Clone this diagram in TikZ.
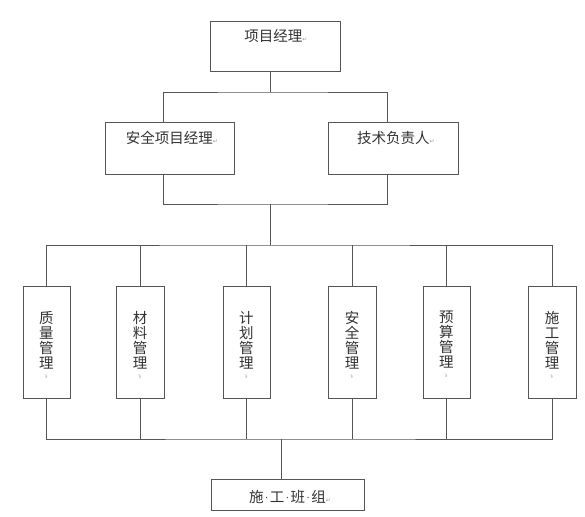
\documentclass[tikz,border=0pt]{standalone}
\usepackage{fontspec}
\usepackage{graphicx}
\newfontfamily\cjk{Noto Sans CJK SC}
\newfontfamily\symf{DejaVu Sans}
\definecolor{ln}{RGB}{85,85,85}
\definecolor{tx}{RGB}{50,50,50}
\definecolor{mk}{RGB}{150,150,150}
\newcommand{\pmk}{{\symf\fontsize{6}{6}\selectfont\textcolor{mk}{↵}}}
\newcommand{\vmk}{{\symf\fontsize{5}{5}\selectfont\textcolor{mk}{\rotatebox{90}{↵}}}}
\newcommand{\mdot}{{\symf\fontsize{10}{10}\selectfont\hspace{1.5pt}\raisebox{1.5pt}{·}\hspace{1.5pt}}}
\begin{document}
\begin{tikzpicture}[x=1pt,y=-1pt,
  box/.style={draw=ln,line width=0.8pt,inner sep=0pt,anchor=north west},
  hbox/.style={box,minimum width=#1,minimum height=52pt},
  vbox/.style={box,minimum width=47.3pt,minimum height=112pt},
  wire/.style={draw=ln,line width=0.8pt},
  lab/.style={text=tx,font=\cjk\fontsize{14.5}{15}\selectfont,inner sep=0pt},
  vlab/.style={lab,align=center,anchor=north}]
\useasboundingbox (0,0) rectangle (585,516);
% top level
\node[box,minimum width=130pt,minimum height=50pt] (top) at (210.3,21) {};
\node[lab] (ttop) at (276,36) {项目经理\pmk};
% second level
\node[hbox=129pt] (L) at (105,122) {};
\node[lab] (tL) at (172,138) {安全项目经理\pmk};
\node[hbox=130pt] (R) at (328,122) {};
\node[lab] (tR) at (396,138) {技术负责人\pmk};
% departments
\node[vbox] (b1) at (22.7,285.7) {};
\node[vbox] (b2) at (116.3,285.7) {};
\node[vbox] (b3) at (222.7,285.7) {};
\node[vbox] (b4) at (328.3,285.7) {};
\node[vbox] (b5) at (422.7,285.7) {};
\node[vbox] (b6) at (528.3,285.7) {};
\node[vlab] (t1) at (46.3,311) {质\\量\\管\\理\\[-5pt]\vmk};
\node[vlab] (t2) at (140,311) {材\\料\\管\\理\\[-5pt]\vmk};
\node[vlab] (t3) at (246.3,311) {计\\划\\管\\理\\[-5pt]\vmk};
\node[vlab] (t4) at (352,311) {安\\全\\管\\理\\[-5pt]\vmk};
\node[vlab] (t5) at (446.3,311) {预\\算\\管\\理\\[-5pt]\vmk};
\node[vlab] (t6) at (552,311) {施\\工\\管\\理\\[-5pt]\vmk};
% bottom
\node[box,minimum width=153pt,minimum height=30.7pt] (bot) at (210.7,479.3) {};
\node[lab] (tbot) at (290,497) {施\mdot 工\mdot 班\mdot 组\pmk};
% junctions
\coordinate (j1) at (270,92);
\coordinate (aL) at (163.3,0);
\coordinate (aR) at (387.3,0);
\coordinate (j2) at (270,204);
\coordinate (bus) at (270,245);
\coordinate (j3) at (281.7,439);
% connectors
\draw[wire] (top.south -| j1) -- (j1);
\draw[wire] (L.north -| aL) |- (j1) -| (R.north -| aR);
\draw[wire] (L.south -| aL) |- (j2) -| (R.south -| aR);
\draw[wire] (j2) -- (bus);
\draw[wire] (b1.north) |- (bus) -| (b6.north);
\foreach \b in {b2,b3,b4,b5} \draw[wire] (\b.north) -- (\b.north |- bus);
\draw[wire] (b1.south) |- (j3) -| (b6.south);
\foreach \b in {b2,b3,b4,b5} \draw[wire] (\b.south) -- (\b.south |- j3);
\draw[wire] (j3) -- (j3 |- bot.north);
\end{tikzpicture}
\end{document}
